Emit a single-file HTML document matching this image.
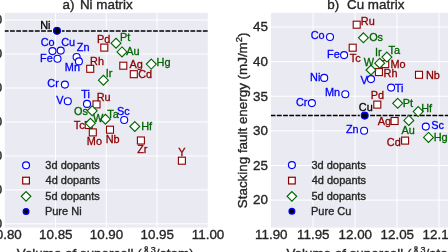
<!DOCTYPE html>
<html><head><meta charset="utf-8"><style>
html,body{margin:0;padding:0;background:#fff;}
svg{display:block;filter:blur(0.3px);}
text{font-family:"Liberation Sans",Arial,sans-serif;}
.h{stroke-width:0.3px;}
.t{stroke:#262626;stroke-width:0.35px;}
</style></head><body>
<svg width="448" height="252" viewBox="0 0 448 252">
<rect width="448" height="252" fill="#fff"/>
<rect x="4.8" y="12.9" width="203.00" height="214.60" fill="#eaeaf2"/>
<rect x="271.0" y="12.9" width="189.0" height="214.60" fill="#eaeaf2"/>
<path d="M55.5 12.9V227.5M106.25 12.9V227.5M157.0 12.9V227.5M4.8 20.07H207.8M4.8 54.03H207.8M4.8 87.99H207.8M4.8 121.95H207.8M4.8 155.91H207.8M4.8 189.87H207.8M4.8 223.83H207.8M313.0 12.9V227.5M355.0 12.9V227.5M397.0 12.9V227.5M439.0 12.9V227.5M271.0 27.0H460M271.0 61.62H460M271.0 96.24H460M271.0 130.86H460M271.0 165.48H460M271.0 200.1H460" stroke="#fff" stroke-width="1" fill="none"/>
<line x1="4.8" y1="31" x2="207.8" y2="31" stroke="#000" stroke-width="1.5" stroke-dasharray="4.8 1.42" stroke-dashoffset="1.0"/>
<line x1="271.0" y1="115.6" x2="460" y2="115.6" stroke="#000" stroke-width="1.5" stroke-dasharray="4.8 1.42" stroke-dashoffset="0.35"/>
<rect x="100.80" y="44.10" width="7.0" height="7.0" fill="#fff" stroke="#8b0000" stroke-width="1.1"/>
<rect x="86.70" y="65.30" width="7.0" height="7.0" fill="#fff" stroke="#8b0000" stroke-width="1.1"/>
<rect x="119.80" y="62.20" width="7.0" height="7.0" fill="#fff" stroke="#8b0000" stroke-width="1.1"/>
<rect x="130.30" y="70.70" width="7.0" height="7.0" fill="#fff" stroke="#8b0000" stroke-width="1.1"/>
<rect x="93.00" y="100.90" width="7.0" height="7.0" fill="#fff" stroke="#8b0000" stroke-width="1.1"/>
<rect x="85.20" y="121.50" width="7.0" height="7.0" fill="#fff" stroke="#8b0000" stroke-width="1.1"/>
<rect x="89.30" y="128.90" width="7.0" height="7.0" fill="#fff" stroke="#8b0000" stroke-width="1.1"/>
<rect x="106.50" y="126.20" width="7.0" height="7.0" fill="#fff" stroke="#8b0000" stroke-width="1.1"/>
<rect x="137.40" y="137.00" width="7.0" height="7.0" fill="#fff" stroke="#8b0000" stroke-width="1.1"/>
<rect x="178.40" y="157.20" width="7.0" height="7.0" fill="#fff" stroke="#8b0000" stroke-width="1.1"/>
<circle cx="52.5" cy="51.1" r="3.50" fill="#fff" stroke="#0000ff" stroke-width="1.1"/>
<circle cx="60.7" cy="50.6" r="3.50" fill="#fff" stroke="#0000ff" stroke-width="1.1"/>
<circle cx="57.5" cy="58.8" r="3.50" fill="#fff" stroke="#0000ff" stroke-width="1.1"/>
<circle cx="76.6" cy="57.0" r="3.50" fill="#fff" stroke="#0000ff" stroke-width="1.1"/>
<circle cx="78.9" cy="61.4" r="3.50" fill="#fff" stroke="#0000ff" stroke-width="1.1"/>
<circle cx="64.9" cy="84.60000000000001" r="3.50" fill="#fff" stroke="#0000ff" stroke-width="1.1"/>
<circle cx="67.8" cy="101.30000000000001" r="3.50" fill="#fff" stroke="#0000ff" stroke-width="1.1"/>
<circle cx="87" cy="103.9" r="3.50" fill="#fff" stroke="#0000ff" stroke-width="1.1"/>
<circle cx="124.2" cy="120.0" r="3.50" fill="#fff" stroke="#0000ff" stroke-width="1.1"/>
<path d="M116.0 38.25L120.95 43.199999999999996L116.0 48.15L111.05 43.199999999999996Z" fill="#fff" stroke="#006400" stroke-width="1.1"/>
<path d="M122.0 46.95L126.95 51.9L122.0 56.85L117.05 51.9Z" fill="#fff" stroke="#006400" stroke-width="1.1"/>
<path d="M151.3 59.15L156.25 64.10000000000001L151.3 69.05L146.35 64.10000000000001Z" fill="#fff" stroke="#006400" stroke-width="1.1"/>
<path d="M103.4 75.25L108.35 80.2L103.4 85.15L98.45 80.2Z" fill="#fff" stroke="#006400" stroke-width="1.1"/>
<path d="M92.2 105.85L97.15 110.80000000000001L92.2 115.75L87.25 110.80000000000001Z" fill="#fff" stroke="#006400" stroke-width="1.1"/>
<path d="M90.4 118.35L95.35 123.30000000000001L90.4 128.25L85.45 123.30000000000001Z" fill="#fff" stroke="#006400" stroke-width="1.1"/>
<path d="M105.4 114.25L110.35 119.2L105.4 124.15L100.45 119.2Z" fill="#fff" stroke="#006400" stroke-width="1.1"/>
<path d="M134.8 121.55L139.75 126.5L134.8 131.45L129.85 126.5Z" fill="#fff" stroke="#006400" stroke-width="1.1"/>
<circle cx="57" cy="30.8" r="4.9" fill="#fff"/><circle cx="57" cy="30.8" r="3.4" fill="#000" stroke="#0000ff" stroke-width="1.35"/>
<rect x="353.20" y="21.20" width="7.0" height="7.0" fill="#fff" stroke="#8b0000" stroke-width="1.1"/>
<rect x="349.20" y="44.20" width="7.0" height="7.0" fill="#fff" stroke="#8b0000" stroke-width="1.1"/>
<rect x="381.70" y="60.60" width="7.0" height="7.0" fill="#fff" stroke="#8b0000" stroke-width="1.1"/>
<rect x="375.40" y="68.60" width="7.0" height="7.0" fill="#fff" stroke="#8b0000" stroke-width="1.1"/>
<rect x="415.50" y="71.30" width="7.0" height="7.0" fill="#fff" stroke="#8b0000" stroke-width="1.1"/>
<rect x="373.80" y="101.10" width="7.0" height="7.0" fill="#fff" stroke="#8b0000" stroke-width="1.1"/>
<rect x="391.10" y="117.50" width="7.0" height="7.0" fill="#fff" stroke="#8b0000" stroke-width="1.1"/>
<rect x="401.60" y="137.10" width="7.0" height="7.0" fill="#fff" stroke="#8b0000" stroke-width="1.1"/>
<circle cx="330" cy="37.0" r="3.50" fill="#fff" stroke="#0000ff" stroke-width="1.1"/>
<circle cx="344.1" cy="55.1" r="3.50" fill="#fff" stroke="#0000ff" stroke-width="1.1"/>
<circle cx="324.2" cy="77.9" r="3.50" fill="#fff" stroke="#0000ff" stroke-width="1.1"/>
<circle cx="345.3" cy="94.2" r="3.50" fill="#fff" stroke="#0000ff" stroke-width="1.1"/>
<circle cx="311.9" cy="103.10000000000001" r="3.50" fill="#fff" stroke="#0000ff" stroke-width="1.1"/>
<circle cx="371" cy="79.10000000000001" r="3.50" fill="#fff" stroke="#0000ff" stroke-width="1.1"/>
<circle cx="391.1" cy="87.60000000000001" r="3.50" fill="#fff" stroke="#0000ff" stroke-width="1.1"/>
<circle cx="364.1" cy="130.70000000000002" r="3.50" fill="#fff" stroke="#0000ff" stroke-width="1.1"/>
<circle cx="425.8" cy="126.60000000000001" r="3.50" fill="#fff" stroke="#0000ff" stroke-width="1.1"/>
<path d="M363.4 32.85L368.35 37.8L363.4 42.75L358.45 37.8Z" fill="#fff" stroke="#006400" stroke-width="1.1"/>
<path d="M386.9 52.15L391.85 57.1L386.9 62.05L381.95 57.1Z" fill="#fff" stroke="#006400" stroke-width="1.1"/>
<path d="M379.7 58.25L384.65 63.199999999999996L379.7 68.15L374.75 63.199999999999996Z" fill="#fff" stroke="#006400" stroke-width="1.1"/>
<path d="M371 65.05L375.95 70.0L371 74.95L366.05 70.0Z" fill="#fff" stroke="#006400" stroke-width="1.1"/>
<path d="M397.7 98.35L402.65 103.30000000000001L397.7 108.25L392.75 103.30000000000001Z" fill="#fff" stroke="#006400" stroke-width="1.1"/>
<path d="M418.2 106.65L423.15 111.60000000000001L418.2 116.55L413.25 111.60000000000001Z" fill="#fff" stroke="#006400" stroke-width="1.1"/>
<path d="M408.8 115.45L413.75 120.4L408.8 125.35L403.85 120.4Z" fill="#fff" stroke="#006400" stroke-width="1.1"/>
<path d="M428.5 132.45L433.45 137.4L428.5 142.35L423.55 137.4Z" fill="#fff" stroke="#006400" stroke-width="1.1"/>
<circle cx="364.7" cy="115.6" r="4.9" fill="#fff"/><circle cx="364.7" cy="115.6" r="3.4" fill="#000" stroke="#0000ff" stroke-width="1.35"/>
<text class="h" stroke="#0000ff" x="40.75" y="46.13" fill="#0000ff" font-size="10.9" font-weight="normal">Co</text>
<text class="h" stroke="#0000ff" x="61.16" y="45.53" fill="#0000ff" font-size="10.9" font-weight="normal">Cu</text>
<text class="h" stroke="#0000ff" x="40.03" y="62.22" fill="#0000ff" font-size="10.9" font-weight="normal">Fe</text>
<text class="h" stroke="#0000ff" x="76.87" y="51.32" fill="#0000ff" font-size="10.9" font-weight="normal">Zn</text>
<text class="h" stroke="#0000ff" x="64.83" y="71.12" fill="#0000ff" font-size="10.9" font-weight="normal">Mn</text>
<text class="h" stroke="#0000ff" x="47.35" y="86.83" fill="#0000ff" font-size="10.9" font-weight="normal">Cr</text>
<text class="h" stroke="#0000ff" x="56.29" y="104.22" fill="#0000ff" font-size="10.9" font-weight="normal">V</text>
<text class="h" stroke="#0000ff" x="81.18" y="98.35" fill="#0000ff" font-size="10.9" font-weight="normal">Ti</text>
<text class="h" stroke="#0000ff" x="116.95" y="114.53" fill="#0000ff" font-size="10.9" font-weight="normal">Sc</text>
<text class="h" stroke="#8b0000" x="97.03" y="43.35" fill="#8b0000" font-size="10.9" font-weight="normal">Pd</text>
<text class="h" stroke="#8b0000" x="90.03" y="64.85" fill="#8b0000" font-size="10.9" font-weight="normal">Rh</text>
<text class="h" stroke="#8b0000" x="129.50" y="67.52" fill="#8b0000" font-size="10.9" font-weight="normal">Ag</text>
<text class="h" stroke="#8b0000" x="138.16" y="78.05" fill="#8b0000" font-size="10.9" font-weight="normal">Cd</text>
<text class="h" stroke="#8b0000" x="96.63" y="101.22" fill="#8b0000" font-size="10.9" font-weight="normal">Ru</text>
<text class="h" stroke="#8b0000" x="73.78" y="129.12" fill="#8b0000" font-size="10.9" font-weight="normal">Tc</text>
<text class="h" stroke="#8b0000" x="86.83" y="145.22" fill="#8b0000" font-size="10.9" font-weight="normal">Mo</text>
<text class="h" stroke="#8b0000" x="105.63" y="143.15" fill="#8b0000" font-size="10.9" font-weight="normal">Nb</text>
<text class="h" stroke="#8b0000" x="137.17" y="153.12" fill="#8b0000" font-size="10.9" font-weight="normal">Zr</text>
<text class="h" stroke="#8b0000" x="178.28" y="155.92" fill="#8b0000" font-size="10.9" font-weight="normal">Y</text>
<text class="h" stroke="#006400" x="119.93" y="41.22" fill="#006400" font-size="10.9" font-weight="normal">Pt</text>
<text class="h" stroke="#006400" x="126.30" y="54.92" fill="#006400" font-size="10.9" font-weight="normal">Au</text>
<text class="h" stroke="#006400" x="156.53" y="65.92" fill="#006400" font-size="10.9" font-weight="normal">Hg</text>
<text class="h" stroke="#006400" x="105.82" y="77.42" fill="#006400" font-size="10.9" font-weight="normal">Ir</text>
<text class="h" stroke="#006400" x="73.95" y="115.33" fill="#006400" font-size="10.9" font-weight="normal">Os</text>
<text class="h" stroke="#006400" x="93.00" y="122.12" fill="#006400" font-size="10.9" font-weight="normal">W</text>
<text class="h" stroke="#006400" x="107.28" y="118.12" fill="#006400" font-size="10.9" font-weight="normal">Ta</text>
<text class="h" stroke="#006400" x="141.23" y="129.65" fill="#006400" font-size="10.9" font-weight="normal">Hf</text>
<text class="h" stroke="#000" x="40.13" y="28.65" fill="#000" font-size="10.9" font-weight="normal">Ni</text>
<text class="h" stroke="#0000ff" x="310.75" y="39.03" fill="#0000ff" font-size="10.9" font-weight="normal">Co</text>
<text class="h" stroke="#0000ff" x="327.03" y="58.22" fill="#0000ff" font-size="10.9" font-weight="normal">Fe</text>
<text class="h" stroke="#0000ff" x="310.03" y="81.35" fill="#0000ff" font-size="10.9" font-weight="normal">Ni</text>
<text class="h" stroke="#0000ff" x="324.93" y="96.32" fill="#0000ff" font-size="10.9" font-weight="normal">Mn</text>
<text class="h" stroke="#0000ff" x="295.95" y="106.33" fill="#0000ff" font-size="10.9" font-weight="normal">Cr</text>
<text class="h" stroke="#0000ff" x="360.49" y="83.52" fill="#0000ff" font-size="10.9" font-weight="normal">V</text>
<text class="h" stroke="#0000ff" x="394.68" y="91.85" fill="#0000ff" font-size="10.9" font-weight="normal">Ti</text>
<text class="h" stroke="#0000ff" x="345.97" y="133.42" fill="#0000ff" font-size="10.9" font-weight="normal">Zn</text>
<text class="h" stroke="#0000ff" x="431.15" y="129.43" fill="#0000ff" font-size="10.9" font-weight="normal">Sc</text>
<text class="h" stroke="#8b0000" x="360.83" y="25.12" fill="#8b0000" font-size="10.9" font-weight="normal">Ru</text>
<text class="h" stroke="#8b0000" x="349.78" y="62.12" fill="#8b0000" font-size="10.9" font-weight="normal">Tc</text>
<text class="h" stroke="#8b0000" x="390.53" y="68.42" fill="#8b0000" font-size="10.9" font-weight="normal">Mo</text>
<text class="h" stroke="#8b0000" x="383.53" y="76.65" fill="#8b0000" font-size="10.9" font-weight="normal">Rh</text>
<text class="h" stroke="#8b0000" x="425.93" y="78.85" fill="#8b0000" font-size="10.9" font-weight="normal">Nb</text>
<text class="h" stroke="#8b0000" x="370.83" y="99.35" fill="#8b0000" font-size="10.9" font-weight="normal">Pd</text>
<text class="h" stroke="#8b0000" x="377.80" y="125.32" fill="#8b0000" font-size="10.9" font-weight="normal">Ag</text>
<text class="h" stroke="#8b0000" x="386.85" y="145.65" fill="#8b0000" font-size="10.9" font-weight="normal">Cd</text>
<text class="h" stroke="#006400" x="369.15" y="41.23" fill="#006400" font-size="10.9" font-weight="normal">Os</text>
<text class="h" stroke="#006400" x="388.58" y="53.62" fill="#006400" font-size="10.9" font-weight="normal">Ta</text>
<text class="h" stroke="#006400" x="375.02" y="55.72" fill="#006400" font-size="10.9" font-weight="normal">Ir</text>
<text class="h" stroke="#006400" x="363.80" y="65.52" fill="#006400" font-size="10.9" font-weight="normal">W</text>
<text class="h" stroke="#006400" x="402.63" y="106.82" fill="#006400" font-size="10.9" font-weight="normal">Pt</text>
<text class="h" stroke="#006400" x="421.23" y="111.85" fill="#006400" font-size="10.9" font-weight="normal">Hf</text>
<text class="h" stroke="#006400" x="401.50" y="134.22" fill="#006400" font-size="10.9" font-weight="normal">Au</text>
<text class="h" stroke="#006400" x="433.73" y="141.32" fill="#006400" font-size="10.9" font-weight="normal">Hg</text>
<text class="h" stroke="#000" x="358.85" y="111.13" fill="#000" font-size="10.9" font-weight="normal">Cu</text>
<circle cx="26.05" cy="165.3" r="3.45" fill="#fff" stroke="#0000ff" stroke-width="1.2"/>
<rect x="22.7" y="177.25" width="6.7" height="6.7" fill="#fff" stroke="#8b0000" stroke-width="1.2"/>
<path d="M26.05 191.55L30.8 196.3L26.05 201.05L21.3 196.3Z" fill="#fff" stroke="#006400" stroke-width="1.2"/>
<circle cx="26.05" cy="211.4" r="2.8" fill="#000" stroke="#0000ff" stroke-width="1.4"/>
<text class="t" x="45.36" y="169.12" fill="#262626" font-size="11.0" font-weight="normal">3d dopants</text>
<text class="t" x="45.58" y="184.42" fill="#262626" font-size="11.0" font-weight="normal">4d dopants</text>
<text class="t" x="45.36" y="200.12" fill="#262626" font-size="11.0" font-weight="normal">5d dopants</text>
<text class="t" x="44.92" y="215.22" fill="#262626" font-size="11.0" font-weight="normal">Pure Ni</text>
<circle cx="291.9" cy="165.1" r="3.45" fill="#fff" stroke="#0000ff" stroke-width="1.2"/>
<rect x="288.54999999999995" y="177.25" width="6.7" height="6.7" fill="#fff" stroke="#8b0000" stroke-width="1.2"/>
<path d="M291.9 191.55L296.65 196.3L291.9 201.05L287.15 196.3Z" fill="#fff" stroke="#006400" stroke-width="1.2"/>
<circle cx="291.9" cy="211.2" r="2.8" fill="#000" stroke="#0000ff" stroke-width="1.4"/>
<text class="t" x="311.46" y="168.92" fill="#262626" font-size="11.0" font-weight="normal">3d dopants</text>
<text class="t" x="311.68" y="184.42" fill="#262626" font-size="11.0" font-weight="normal">4d dopants</text>
<text class="t" x="311.46" y="200.12" fill="#262626" font-size="11.0" font-weight="normal">5d dopants</text>
<text class="t" x="311.02" y="214.80" fill="#262626" font-size="11.0" font-weight="normal">Pure Cu</text>
<text class="t" x="-11.74" y="239.28" font-size="13.4" fill="#262626">10.80</text>
<text class="t" x="39.02" y="239.28" font-size="13.4" fill="#262626">10.85</text>
<text class="t" x="89.76" y="239.28" font-size="13.4" fill="#262626">10.90</text>
<text class="t" x="140.51" y="239.28" font-size="13.4" fill="#262626">10.95</text>
<text class="t" x="191.80" y="239.28" font-size="13.4" fill="#262626">11.00</text>
<text class="t" x="255.05" y="239.28" font-size="13.4" fill="#262626">11.90</text>
<text class="t" x="297.05" y="239.28" font-size="13.4" fill="#262626">11.95</text>
<text class="t" x="338.52" y="239.28" font-size="13.4" fill="#262626">12.00</text>
<text class="t" x="380.52" y="239.28" font-size="13.4" fill="#262626">12.05</text>
<text class="t" x="422.52" y="239.28" font-size="13.4" fill="#262626">12.10</text>
<text class="t" x="-20.24" y="24.39" font-size="13.4" fill="#262626">200</text>
<text class="t" x="-20.24" y="58.35" font-size="13.4" fill="#262626">190</text>
<text class="t" x="-20.24" y="92.31" font-size="13.4" fill="#262626">180</text>
<text class="t" x="-20.24" y="126.27" font-size="13.4" fill="#262626">170</text>
<text class="t" x="-20.24" y="160.23" font-size="13.4" fill="#262626">160</text>
<text class="t" x="-20.24" y="194.19" font-size="13.4" fill="#262626">150</text>
<text class="t" x="-20.24" y="228.15" font-size="13.4" fill="#262626">140</text>
<text class="t" x="253.03" y="31.26" font-size="13.4" fill="#262626">45</text>
<text class="t" x="253.03" y="65.94" font-size="13.4" fill="#262626">40</text>
<text class="t" x="253.03" y="100.56" font-size="13.4" fill="#262626">35</text>
<text class="t" x="253.03" y="135.18" font-size="13.4" fill="#262626">30</text>
<text class="t" x="253.03" y="169.80" font-size="13.4" fill="#262626">25</text>
<text class="t" x="253.03" y="204.42" font-size="13.4" fill="#262626">20</text>
<text class="t" x="62.56" y="9.2" font-size="13.4" fill="#262626">a)<tspan dx="5.45">Ni matrix</tspan></text>
<text class="t" x="327.20" y="9.2" font-size="13.4" fill="#262626">b)<tspan dx="7.92">Cu matrix</tspan></text>
<text class="t" x="16.7" y="257.5" font-size="13.4" fill="#262626">Volume of supercell (Å<tspan dy="-4.2" font-size="9">3</tspan><tspan dy="4.2">/atom)</tspan></text>
<text class="t" x="286.4" y="257.5" font-size="13.4" fill="#262626">Volume of supercell (Å<tspan dy="-4.2" font-size="9">3</tspan><tspan dy="4.2">/atom)</tspan></text>
<text class="t" transform="translate(246.6 208.2) rotate(-90)" x="0" y="0" font-size="13.4" fill="#262626">Stacking fault energy (mJ/m<tspan dy="-5" font-size="9.5">2</tspan><tspan dy="5">)</tspan></text>
</svg>
</body></html>
